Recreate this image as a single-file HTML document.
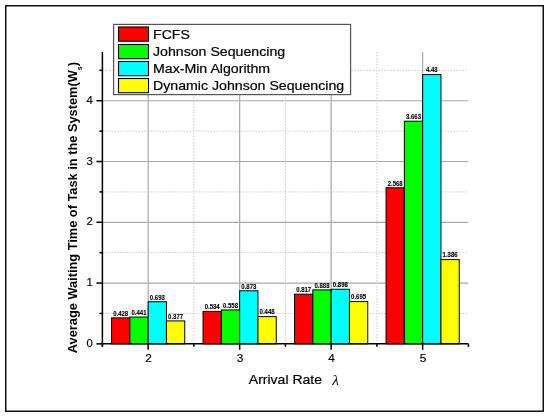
<!DOCTYPE html><html><head><meta charset="utf-8"><style>html,body{margin:0;padding:0;background:#fff;}svg{display:block;}text{font-family:"Liberation Sans",Arial,sans-serif;}</style></head><body>
<svg width="550" height="419" viewBox="0 0 550 419">
<rect x="0" y="0" width="550" height="419" fill="#fff"/>
<rect x="5.75" y="5.75" width="537.5" height="405.5" fill="none" stroke="#111" stroke-width="1.5"/>
<line x1="102.4" y1="313.46" x2="468.4" y2="313.46" stroke="#cbcbcb" stroke-width="1" stroke-dasharray="1.5,1.5"/>
<line x1="102.4" y1="252.68" x2="468.4" y2="252.68" stroke="#cbcbcb" stroke-width="1" stroke-dasharray="1.5,1.5"/>
<line x1="102.4" y1="191.90" x2="468.4" y2="191.90" stroke="#cbcbcb" stroke-width="1" stroke-dasharray="1.5,1.5"/>
<line x1="102.4" y1="131.12" x2="468.4" y2="131.12" stroke="#cbcbcb" stroke-width="1" stroke-dasharray="1.5,1.5"/>
<line x1="102.4" y1="70.34" x2="468.4" y2="70.34" stroke="#cbcbcb" stroke-width="1" stroke-dasharray="1.5,1.5"/>
<line x1="102.4" y1="283.07" x2="468.4" y2="283.07" stroke="#a9a9a9" stroke-width="1.2"/>
<line x1="102.4" y1="222.29" x2="468.4" y2="222.29" stroke="#a9a9a9" stroke-width="1.2"/>
<line x1="102.4" y1="161.51" x2="468.4" y2="161.51" stroke="#a9a9a9" stroke-width="1.2"/>
<line x1="102.4" y1="100.73" x2="468.4" y2="100.73" stroke="#a9a9a9" stroke-width="1.2"/>
<line x1="148.15" y1="52.0" x2="148.15" y2="343.85" stroke="#a9a9a9" stroke-width="1.2"/>
<line x1="239.65" y1="52.0" x2="239.65" y2="343.85" stroke="#a9a9a9" stroke-width="1.2"/>
<line x1="331.15" y1="52.0" x2="331.15" y2="343.85" stroke="#a9a9a9" stroke-width="1.2"/>
<line x1="422.65" y1="52.0" x2="422.65" y2="343.85" stroke="#a9a9a9" stroke-width="1.2"/>
<line x1="193.90" y1="52.0" x2="193.90" y2="343.85" stroke="#cbcbcb" stroke-width="1" stroke-dasharray="1.5,1.5"/>
<line x1="285.40" y1="52.0" x2="285.40" y2="343.85" stroke="#cbcbcb" stroke-width="1" stroke-dasharray="1.5,1.5"/>
<line x1="376.90" y1="52.0" x2="376.90" y2="343.85" stroke="#cbcbcb" stroke-width="1" stroke-dasharray="1.5,1.5"/>
<rect x="111.55" y="317.84" width="18.30" height="26.01" fill="#ff0000" stroke="#000" stroke-width="1.0"/>
<text transform="translate(120.70,315.64) scale(0.91,1)" font-size="6.6" font-weight="bold" text-anchor="middle" fill="#000" stroke="#000" stroke-width="0.1">0.428</text>
<rect x="129.85" y="317.05" width="18.30" height="26.80" fill="#00ff00" stroke="#000" stroke-width="1.0"/>
<text transform="translate(139.00,314.85) scale(0.91,1)" font-size="6.6" font-weight="bold" text-anchor="middle" fill="#000" stroke="#000" stroke-width="0.1">0.441</text>
<rect x="148.15" y="301.73" width="18.30" height="42.12" fill="#00ffff" stroke="#000" stroke-width="1.0"/>
<text transform="translate(157.30,299.53) scale(0.91,1)" font-size="6.6" font-weight="bold" text-anchor="middle" fill="#000" stroke="#000" stroke-width="0.1">0.693</text>
<rect x="166.45" y="320.94" width="18.30" height="22.91" fill="#ffff00" stroke="#000" stroke-width="1.0"/>
<text transform="translate(175.60,318.74) scale(0.91,1)" font-size="6.6" font-weight="bold" text-anchor="middle" fill="#000" stroke="#000" stroke-width="0.1">0.377</text>
<rect x="203.05" y="311.39" width="18.30" height="32.46" fill="#ff0000" stroke="#000" stroke-width="1.0"/>
<text transform="translate(212.20,309.19) scale(0.91,1)" font-size="6.6" font-weight="bold" text-anchor="middle" fill="#000" stroke="#000" stroke-width="0.1">0.534</text>
<rect x="221.35" y="309.93" width="18.30" height="33.92" fill="#00ff00" stroke="#000" stroke-width="1.0"/>
<text transform="translate(230.50,307.73) scale(0.91,1)" font-size="6.6" font-weight="bold" text-anchor="middle" fill="#000" stroke="#000" stroke-width="0.1">0.558</text>
<rect x="239.65" y="290.79" width="18.30" height="53.06" fill="#00ffff" stroke="#000" stroke-width="1.0"/>
<text transform="translate(248.80,288.59) scale(0.91,1)" font-size="6.6" font-weight="bold" text-anchor="middle" fill="#000" stroke="#000" stroke-width="0.1">0.873</text>
<rect x="257.95" y="316.62" width="18.30" height="27.23" fill="#ffff00" stroke="#000" stroke-width="1.0"/>
<text transform="translate(267.10,314.42) scale(0.91,1)" font-size="6.6" font-weight="bold" text-anchor="middle" fill="#000" stroke="#000" stroke-width="0.1">0.448</text>
<rect x="294.55" y="294.19" width="18.30" height="49.66" fill="#ff0000" stroke="#000" stroke-width="1.0"/>
<text transform="translate(303.70,291.99) scale(0.91,1)" font-size="6.6" font-weight="bold" text-anchor="middle" fill="#000" stroke="#000" stroke-width="0.1">0.817</text>
<rect x="312.85" y="289.88" width="18.30" height="53.97" fill="#00ff00" stroke="#000" stroke-width="1.0"/>
<text transform="translate(322.00,287.68) scale(0.91,1)" font-size="6.6" font-weight="bold" text-anchor="middle" fill="#000" stroke="#000" stroke-width="0.1">0.888</text>
<rect x="331.15" y="289.27" width="18.30" height="54.58" fill="#00ffff" stroke="#000" stroke-width="1.0"/>
<text transform="translate(340.30,287.07) scale(0.91,1)" font-size="6.6" font-weight="bold" text-anchor="middle" fill="#000" stroke="#000" stroke-width="0.1">0.898</text>
<rect x="349.45" y="301.61" width="18.30" height="42.24" fill="#ffff00" stroke="#000" stroke-width="1.0"/>
<text transform="translate(358.60,299.41) scale(0.91,1)" font-size="6.6" font-weight="bold" text-anchor="middle" fill="#000" stroke="#000" stroke-width="0.1">0.695</text>
<rect x="386.05" y="187.77" width="18.30" height="156.08" fill="#ff0000" stroke="#000" stroke-width="1.0"/>
<text transform="translate(395.20,185.57) scale(0.91,1)" font-size="6.6" font-weight="bold" text-anchor="middle" fill="#000" stroke="#000" stroke-width="0.1">2.568</text>
<rect x="404.35" y="121.21" width="18.30" height="222.64" fill="#00ff00" stroke="#000" stroke-width="1.0"/>
<text transform="translate(413.50,119.01) scale(0.91,1)" font-size="6.6" font-weight="bold" text-anchor="middle" fill="#000" stroke="#000" stroke-width="0.1">3.663</text>
<rect x="422.65" y="74.59" width="18.30" height="269.26" fill="#00ffff" stroke="#000" stroke-width="1.0"/>
<text transform="translate(431.80,72.39) scale(0.91,1)" font-size="6.6" font-weight="bold" text-anchor="middle" fill="#000" stroke="#000" stroke-width="0.1">4.43</text>
<rect x="440.95" y="259.61" width="18.30" height="84.24" fill="#ffff00" stroke="#000" stroke-width="1.0"/>
<text transform="translate(450.10,257.41) scale(0.91,1)" font-size="6.6" font-weight="bold" text-anchor="middle" fill="#000" stroke="#000" stroke-width="0.1">1.386</text>
<line x1="102.4" y1="52.0" x2="102.4" y2="346.85" stroke="#000" stroke-width="1.5"/>
<line x1="102.4" y1="343.85" x2="468.4" y2="343.85" stroke="#000" stroke-width="1.5"/>
<line x1="96.4" y1="343.85" x2="102.4" y2="343.85" stroke="#000" stroke-width="1.5"/>
<text transform="translate(92.8,346.95) scale(1.03,1)" font-size="11" text-anchor="end" fill="#000" stroke="#000" stroke-width="0.15">0</text>
<line x1="96.4" y1="283.07" x2="102.4" y2="283.07" stroke="#000" stroke-width="1.5"/>
<text transform="translate(92.8,286.17) scale(1.03,1)" font-size="11" text-anchor="end" fill="#000" stroke="#000" stroke-width="0.15">1</text>
<line x1="96.4" y1="222.29" x2="102.4" y2="222.29" stroke="#000" stroke-width="1.5"/>
<text transform="translate(92.8,225.39) scale(1.03,1)" font-size="11" text-anchor="end" fill="#000" stroke="#000" stroke-width="0.15">2</text>
<line x1="96.4" y1="161.51" x2="102.4" y2="161.51" stroke="#000" stroke-width="1.5"/>
<text transform="translate(92.8,164.61) scale(1.03,1)" font-size="11" text-anchor="end" fill="#000" stroke="#000" stroke-width="0.15">3</text>
<line x1="96.4" y1="100.73" x2="102.4" y2="100.73" stroke="#000" stroke-width="1.5"/>
<text transform="translate(92.8,103.83) scale(1.03,1)" font-size="11" text-anchor="end" fill="#000" stroke="#000" stroke-width="0.15">4</text>
<line x1="99.4" y1="313.46" x2="102.4" y2="313.46" stroke="#000" stroke-width="1.5"/>
<line x1="99.4" y1="252.68" x2="102.4" y2="252.68" stroke="#000" stroke-width="1.5"/>
<line x1="99.4" y1="191.90" x2="102.4" y2="191.90" stroke="#000" stroke-width="1.5"/>
<line x1="99.4" y1="131.12" x2="102.4" y2="131.12" stroke="#000" stroke-width="1.5"/>
<line x1="99.4" y1="70.34" x2="102.4" y2="70.34" stroke="#000" stroke-width="1.5"/>
<line x1="148.15" y1="343.85" x2="148.15" y2="349.85" stroke="#000" stroke-width="1.5"/>
<text transform="translate(148.45,362.2) scale(1.08,1)" font-size="11" text-anchor="middle" fill="#000" stroke="#000" stroke-width="0.15">2</text>
<line x1="239.65" y1="343.85" x2="239.65" y2="349.85" stroke="#000" stroke-width="1.5"/>
<text transform="translate(239.95,362.2) scale(1.08,1)" font-size="11" text-anchor="middle" fill="#000" stroke="#000" stroke-width="0.15">3</text>
<line x1="331.15" y1="343.85" x2="331.15" y2="349.85" stroke="#000" stroke-width="1.5"/>
<text transform="translate(331.45,362.2) scale(1.08,1)" font-size="11" text-anchor="middle" fill="#000" stroke="#000" stroke-width="0.15">4</text>
<line x1="422.65" y1="343.85" x2="422.65" y2="349.85" stroke="#000" stroke-width="1.5"/>
<text transform="translate(422.95,362.2) scale(1.08,1)" font-size="11" text-anchor="middle" fill="#000" stroke="#000" stroke-width="0.15">5</text>
<line x1="102.40" y1="343.85" x2="102.40" y2="346.85" stroke="#000" stroke-width="1.5"/>
<line x1="193.90" y1="343.85" x2="193.90" y2="346.85" stroke="#000" stroke-width="1.5"/>
<line x1="285.40" y1="343.85" x2="285.40" y2="346.85" stroke="#000" stroke-width="1.5"/>
<line x1="376.90" y1="343.85" x2="376.90" y2="346.85" stroke="#000" stroke-width="1.5"/>
<line x1="468.40" y1="343.85" x2="468.40" y2="346.85" stroke="#000" stroke-width="1.5"/>
<text transform="translate(248.8,384.3) scale(1.08,1)" font-size="13" fill="#000" stroke="#000" stroke-width="0.2">Arrival Rate</text>
<text transform="translate(332.3,384.9) scale(1.1,1.06)" font-size="14" font-style="italic" fill="#000" style="font-family:'Liberation Serif',serif">λ</text>
<text transform="translate(77,353.2) rotate(-90)" font-size="12.8" font-weight="bold" fill="#000">Average Waiting Time of Task in the System(W<tspan font-size="7" dy="4.6">s</tspan><tspan dy="-4.6">)</tspan></text>
<rect x="113.6" y="24.4" width="237" height="70.2" fill="#fff" stroke="#555" stroke-width="1.2"/>
<rect x="118.5" y="27.00" width="30" height="14.2" fill="#ff0000" stroke="#000" stroke-width="1.1"/>
<text transform="translate(153,38.50) scale(1.098,1)" font-size="12.9" fill="#000" stroke="#000" stroke-width="0.2">FCFS</text>
<rect x="118.5" y="44.50" width="30" height="14.2" fill="#00ff00" stroke="#000" stroke-width="1.1"/>
<text transform="translate(153,56.00) scale(1.098,1)" font-size="12.9" fill="#000" stroke="#000" stroke-width="0.2">Johnson Sequencing</text>
<rect x="118.5" y="61.50" width="30" height="14.2" fill="#00ffff" stroke="#000" stroke-width="1.1"/>
<text transform="translate(153,73.00) scale(1.098,1)" font-size="12.9" fill="#000" stroke="#000" stroke-width="0.2">Max-Min Algorithm</text>
<rect x="118.5" y="78.50" width="30" height="14.2" fill="#ffff00" stroke="#000" stroke-width="1.1"/>
<text transform="translate(153,90.00) scale(1.098,1)" font-size="12.9" fill="#000" stroke="#000" stroke-width="0.2">Dynamic Johnson Sequencing</text>
</svg></body></html>
